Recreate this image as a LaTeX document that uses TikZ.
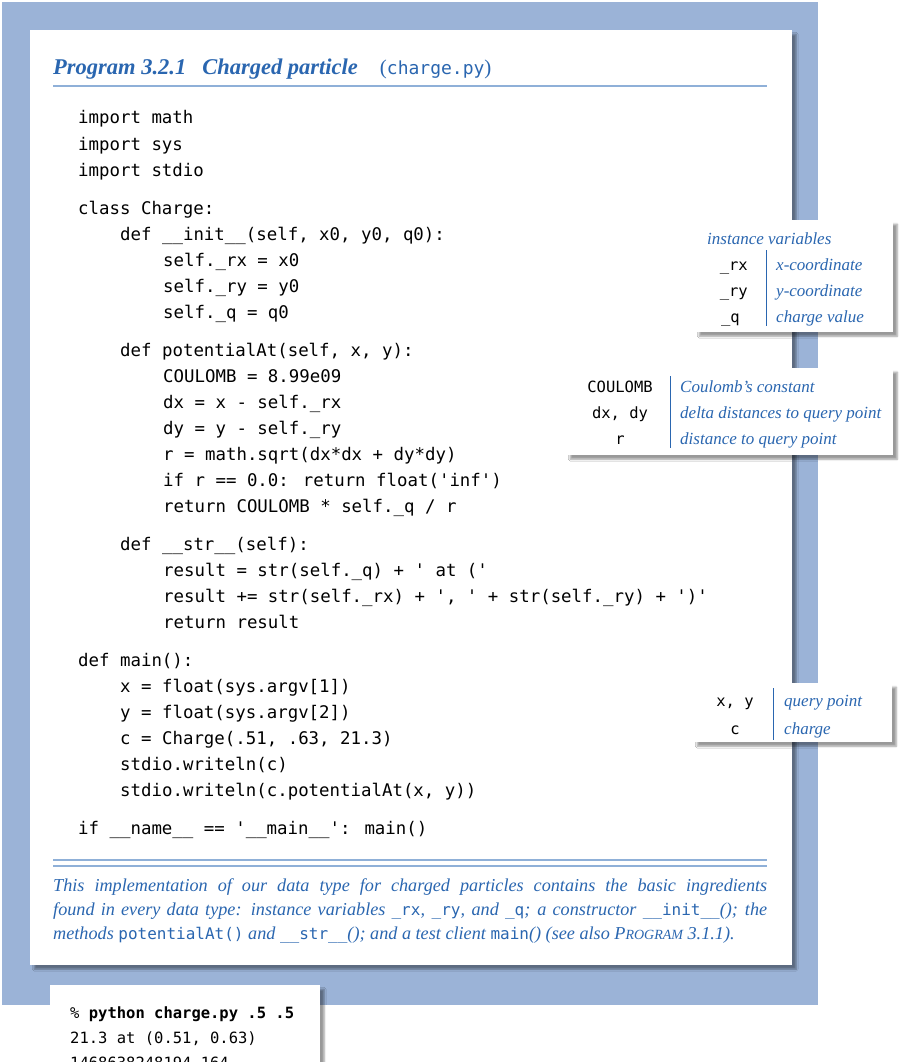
\documentclass[tikz,border=0pt]{standalone}
\usepackage{fontspec}
\setmainfont{Liberation Serif}
\newfontfamily\code{DejaVu Sans Mono}
\usetikzlibrary{shadows.blur}
\definecolor{bgblue}{HTML}{9BB3D7}
\definecolor{tblue}{HTML}{2A66B0}
\definecolor{rblue}{HTML}{8FB0D8}
\tikzset{
 panel/.style={fill=white,draw=none,blur shadow={shadow xshift=4pt,shadow yshift=-4pt,shadow blur steps=6}},
 cl/.style={anchor=base west,inner sep=0pt,font=\code\fontsize{17.4}{20}\selectfont},
 av/.style={anchor=base,inner sep=0pt,font=\code\fontsize{15.5}{18}\selectfont},
 ad/.style={anchor=base west,inner sep=0pt,text=tblue,font=\itshape\fontsize{17}{20}\selectfont},
 ol/.style={anchor=base west,inner sep=0pt,font=\code\fontsize{15.5}{18}\selectfont},
 vr/.style={tblue,line width=0.8pt}
}
\newcommand{\cc}[1]{{\upshape\code\fontsize{16}{24}\selectfont #1}}
\begin{document}
\begin{tikzpicture}[x=1pt,y=-1pt]
\useasboundingbox (0,0) rectangle (902,1062);
\begin{scope}
\clip (0,0) rectangle (902,1062);
\fill[bgblue] (2,2) rectangle (818,1005);
\node[panel,minimum width=762pt,minimum height=935pt,anchor=north west,inner sep=0pt] (main) at (30,30) {};
% title
\node[anchor=base west,inner sep=0pt,text=tblue,font=\bfseries\itshape\fontsize{22.5}{26}\selectfont] (title) at (53,75) {Program 3.2.1\hspace{16pt}Charged particle\hspace{22pt}{\normalfont\fontsize{21}{24}\selectfont(}{\normalfont\code\fontsize{18}{20}\selectfont charge.py}{\normalfont\fontsize{21}{24}\selectfont)}};
\draw[rblue,line width=2pt] (53,86) -- (767,86);
% code
\node[cl] (c1) at (78,124) {import math};
\node[cl] (c2) at (78,150) {import sys};
\node[cl] (c3) at (78,176) {import stdio};
\node[cl] (c4) at (78,214) {class Charge:};
\node[cl] (c5) at (120,240) {def \_\_init\_\_(self, x0, y0, q0):};
\node[cl] (c6) at (163,266) {self.\_rx = x0};
\node[cl] (c7) at (163,292) {self.\_ry = y0};
\node[cl] (c8) at (163,318) {self.\_q = q0};
\node[cl] (c9) at (120,356) {def potentialAt(self, x, y):};
\node[cl] (c10) at (163,382) {COULOMB = 8.99e09};
\node[cl] (c11) at (163,408) {dx = x - self.\_rx};
\node[cl] (c12) at (163,434) {dy = y - self.\_ry};
\node[cl] (c13) at (163,460) {r = math.sqrt(dx*dx + dy*dy)};
\node[cl] (c14) at (163,486) {if r == 0.0: return float('inf')};
\node[cl] (c15) at (163,512) {return COULOMB * self.\_q / r};
\node[cl] (c16) at (120,550) {def \_\_str\_\_(self):};
\node[cl] (c17) at (163,576) {result = str(self.\_q) + ' at ('};
\node[cl] (c18) at (163,602) {result += str(self.\_rx) + ', ' + str(self.\_ry) + ')'};
\node[cl] (c19) at (163,628) {return result};
\node[cl] (c20) at (78,666) {def main():};
\node[cl] (c21) at (120,692) {x = float(sys.argv[1])};
\node[cl] (c22) at (120,718) {y = float(sys.argv[2])};
\node[cl] (c23) at (120,744) {c = Charge(.51, .63, 21.3)};
\node[cl] (c24) at (120,770) {stdio.writeln(c)};
\node[cl] (c25) at (120,796) {stdio.writeln(c.potentialAt(x, y))};
\node[cl] (c26) at (78,834) {if \_\_name\_\_ == '\_\_main\_\_': main()};
% double rule
\draw[rblue,line width=1.5pt] (53,860) -- (767,860);
\draw[rblue,line width=1.5pt] (53,866) -- (767,866);
% caption
\node[anchor=north west,inner sep=0pt,text width=714pt,align=justify,text=tblue,font=\itshape\fontsize{18.2}{24}\selectfont] (cap) at (53,878) {\parfillskip=0pt This implementation of our data type for charged particles contains the basic ingredients\linebreak found in every data type: instance variables \cc{\_rx}, \cc{\_ry}, and \cc{\_q}; a constructor \cc{\_\_init\_\_}(); the\linebreak methods \cc{potentialAt()} and \cc{\_\_str\_\_}(); and a test client \cc{main}() (see also P{\fontsize{14}{24}\selectfont ROGRAM} 3.1.1).};
% box 1
\node[panel,minimum width=198pt,minimum height=112pt,anchor=north west,inner sep=0pt] (b1) at (695,220) {};
\node[ad] (b1t) at (707,244) {instance variables};
\node[av,anchor=base east] (b1a) at (748,270) {\_rx};
\node[av,anchor=base east] (b1b) at (748,296) {\_ry};
\node[av,anchor=base east] (b1c) at (740,322) {\_q};
\node[ad] (b1d) at (776,270) {x-coordinate};
\node[ad] (b1e) at (776,296) {y-coordinate};
\node[ad] (b1f) at (776,322) {charge value};
\draw[vr] (766,250) -- (766,326);
% box 2
\node[panel,minimum width=327pt,minimum height=87pt,anchor=north west,inner sep=0pt] (b2) at (566,368) {};
\node[av] (b2a) at (620,392) {COULOMB};
\node[av] (b2b) at (620,418) {dx, dy};
\node[av] (b2c) at (620,444) {r};
\node[ad] (b2d) at (680,392) {Coulomb’s constant};
\node[ad] (b2e) at (680,418) {delta distances to query point};
\node[ad] (b2f) at (680,444) {distance to query point};
\draw[vr] (670,376) -- (670,448);
% box 3
\node[panel,minimum width=199pt,minimum height=59pt,anchor=north west,inner sep=0pt] (b3) at (693,683) {};
\node[av] (b3a) at (735,706) {x, y};
\node[av] (b3b) at (735,734) {c};
\node[ad] (b3c) at (784,706) {query point};
\node[ad] (b3d) at (784,734) {charge};
\draw[vr] (773,688) -- (773,740);
% output box
\node[panel,minimum width=270pt,minimum height=120pt,anchor=north west,inner sep=0pt] (out) at (50,985) {};
\node[ol] (o1) at (70,1018) {\% \textbf{python charge.py .5 .5}};
\node[ol] (o2) at (70,1043) {21.3 at (0.51, 0.63)};
\node[ol] (o3) at (70,1068) {1468638248194.164};
\end{scope}
\end{tikzpicture}
\end{document}
